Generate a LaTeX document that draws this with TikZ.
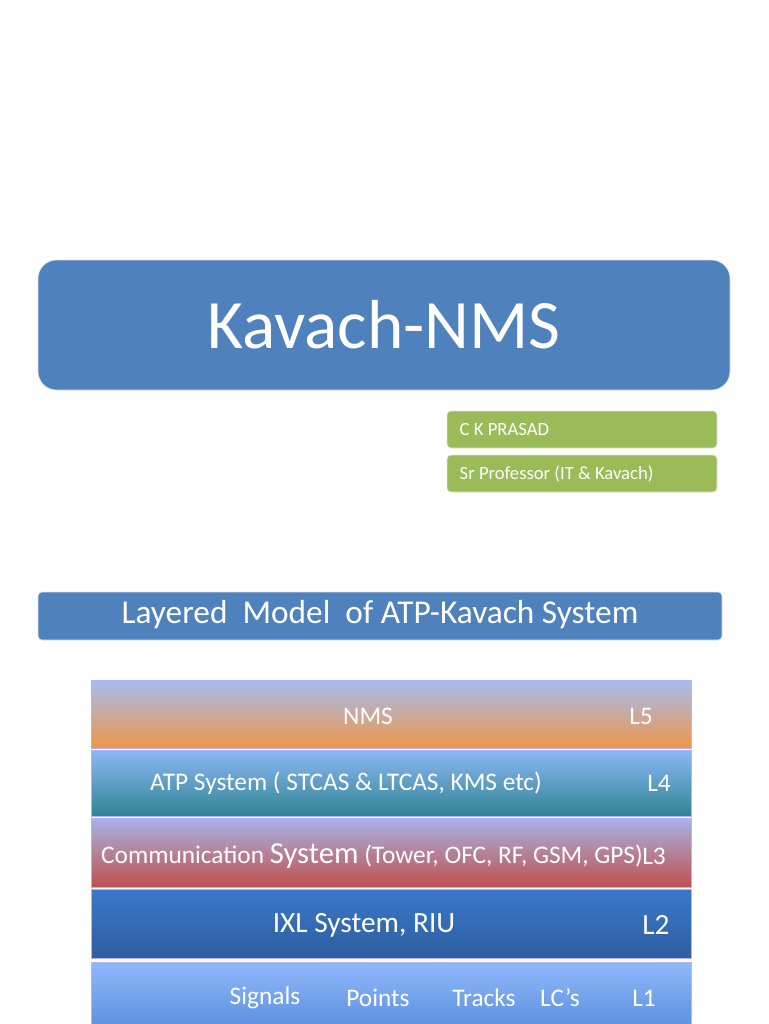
\documentclass[tikz,border=0pt]{standalone}
\usepackage{fontspec}
\setmainfont{Carlito}
\begin{document}
\begin{tikzpicture}[x=0.75pt,y=-0.75pt,
  layer/.style={draw=white!70!blue,line width=0.6pt},
  lt/.style={text=white,font=\fontsize{19}{22}\selectfont,anchor=center},
  gbox/.style={fill=green!50!olive!60!lime,draw=white,rounded corners=3pt,line width=1pt}]
\useasboundingbox (0,0) rectangle (768,1024);
\definecolor{kblue}{HTML}{4F81BD}
\definecolor{kgreen}{HTML}{9BBB59}
% title
\node[fill=kblue,draw=white!80!kblue,rounded corners=14pt,minimum width=692*0.75pt,minimum height=130*0.75pt,text=white,font=\fontsize{52}{60}\selectfont] (title) at (384,325) {Kavach-NMS};
\node[fill=kgreen,draw=white!70!kgreen,rounded corners=3pt,minimum width=270*0.75pt,minimum height=37*0.75pt] (g1) at (582,429.5) {};
\node[text=white,font=\fontsize{14}{16}\selectfont,anchor=west] (n1) at (455,429.5) {C K PRASAD};
\node[fill=kgreen,draw=white!70!kgreen,rounded corners=3pt,minimum width=270*0.75pt,minimum height=37*0.75pt] (g2) at (582,473.5) {};
\node[text=white,font=\fontsize{14}{16}\selectfont,anchor=west] (n2) at (455,473.5) {Sr Professor (IT \& Kavach)};
% banner
\node[fill=kblue,draw=white!80!kblue,rounded corners=3pt,minimum width=684*0.75pt,minimum height=48*0.75pt] (banner) at (380,616) {};
\node[text=white,font=\fontsize{25}{28}\selectfont] (bt) at (380,615) {Layered\ \ Model\ \ of ATP-Kavach System};
% layers
\shade[layer,top color={rgb,255:red,164;green,189;blue,240},bottom color={rgb,255:red,240;green,149;blue,74}] (91,680) rectangle (691,748);
\shade[layer,top color={rgb,255:red,141;green,184;blue,245},bottom color={rgb,255:red,47;green,132;blue,148}] (91,750) rectangle (691,816);
\shade[layer,top color={rgb,255:red,167;green,179;blue,232},bottom color={rgb,255:red,192;green,80;blue,77}] (91,818) rectangle (691,887);
\shade[layer,top color={rgb,255:red,58;green,120;blue,200},bottom color={rgb,255:red,45;green,94;blue,160}] (91,889) rectangle (691,958);
\shade[layer,top color={rgb,255:red,143;green,184;blue,248},bottom color={rgb,255:red,91;green,143;blue,224}] (91,962) rectangle (691,1030);
\node[lt] (t5) at (368,716) {NMS};
\node[lt] (l5) at (641,716) {L5};
\node[lt] (t4) at (346,783) {ATP System ( STCAS \& LTCAS, KMS etc)};
\node[lt] (l4) at (659,783) {L4};
\node[lt] (t3) at (372,856) {Communication {\fontsize{23}{26}\selectfont System} (Tower, OFC, RF, GSM, GPS)};
\node[lt] (l3) at (654,856) {L3};
\node[lt,font=\fontsize{22}{26}\selectfont] (t2) at (364,925) {IXL System, RIU};
\node[lt,font=\fontsize{22}{26}\selectfont] (l2) at (656,925) {L2};
\node[lt] (s1) at (265,998) {Signals};
\node[lt] (s2) at (378,998) {Points};
\node[lt] (s3) at (484,998) {Tracks};
\node[lt] (s4) at (560,998) {LC's};
\node[lt] (l1) at (644,998) {L1};
\end{tikzpicture}
\end{document}
